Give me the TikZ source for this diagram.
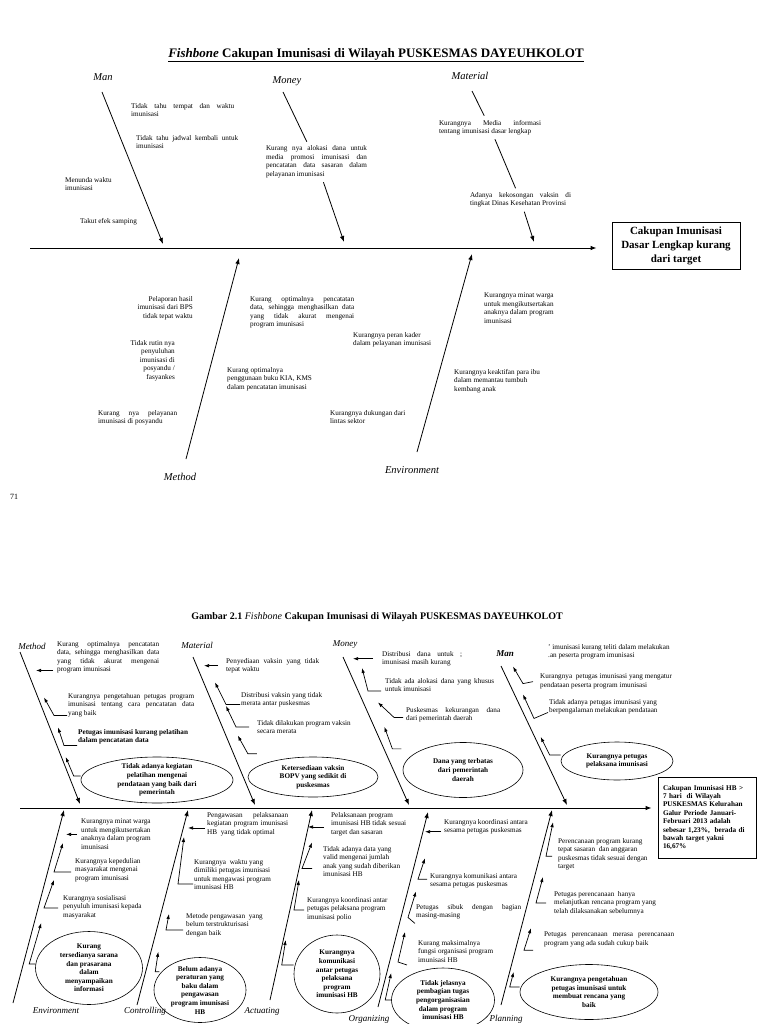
\documentclass[tikz,border=0pt]{standalone}
\usepackage{fontspec}
\setmainfont{Liberation Serif}
\usetikzlibrary{arrows.meta,shapes.geometric}

\begin{document}
\begin{tikzpicture}[x=1pt, y=-1pt,
  cause/.style={font=\fontsize{7.2}{8.5}\selectfont, inner sep=1pt, anchor=north west, align=left},
  causej/.style={cause, align=justify, text width=#1},
  causer/.style={cause, anchor=north east, align=right},
  causeb/.style={cause, font=\fontsize{7.2}{8.5}\selectfont\bfseries},
  gap/.style={inner sep=4pt},
  head/.style={font=\fontsize{10.5}{12}\selectfont\itshape, inner sep=1pt},
  head2/.style={font=\fontsize{9}{10}\selectfont\itshape, inner sep=1pt},
  title1/.style={font=\fontsize{13}{15}\selectfont\bfseries, inner sep=1pt},
  title2/.style={font=\fontsize{10}{12}\selectfont\bfseries, inner sep=1pt},
  bone/.style={line width=0.8pt, -{Latex[length=6pt,width=4.5pt]}},
  spine/.style={line width=1pt, -{Latex[length=6pt,width=4.5pt]}},
  subarr/.style={line width=0.7pt, -{Latex[length=5pt,width=3.5pt]}},
  oval/.style={ellipse, draw, line width=0.6pt, font=\fontsize{7.2}{8.6}\selectfont\bfseries, align=center, inner xsep=0pt, inner ysep=-3pt},
  result1/.style={draw, line width=0.8pt, minimum width=128pt, minimum height=47pt, font=\fontsize{11}{14}\selectfont\bfseries, align=center},
  result2/.style={draw, line width=0.8pt, text width=88pt, inner xsep=5pt, minimum height=81pt, font=\fontsize{7.2}{8.4}\selectfont\bfseries, align=left}]
  \path[use as bounding box, fill=white] (0,0) rectangle (768,1024);

  \node[title1] (ttl1) at (376,55) {\underline{\textit{Fishbone} Cakupan Imunisasi di Wilayah PUSKESMAS DAYEUHKOLOT}};
  \node[result1] (res1) at (676,245.5) {Cakupan Imunisasi\\Dasar Lengkap kurang\\dari target};
  \coordinate (sp1S) at (30,248);
  \draw[spine, shorten >=15pt] (sp1S) -- (sp1S -| res1.west);

  \node[head] (man1) at (103,77) {Man};
  \node[head] (mon1) at (287,81) {Money};
  \node[head] (mat1) at (470,76) {Material};
  \node[head] (met1) at (180,477) {Method};
  \node[head] (env1) at (412,470) {Environment};

  \coordinate (manS1) at (102,92);
  \coordinate (manE1) at (163,244);
  \coordinate (monS1) at (283,92);
  \coordinate (monE1) at (344,242);
  \coordinate (matS1) at (472,91);
  \coordinate (matE1) at (534,242);
  \coordinate (metS1) at (186,459);
  \coordinate (metE1) at (239,258);
  \coordinate (envS1) at (417,452);
  \coordinate (envE1) at (472,254);

  \node[causej=101pt, gap, anchor=center] (mon1a) at (316.5,162) {Kurang nya alokasi dana untuk\linebreak media promosi imunisasi dan\linebreak pencatatan data sasaran dalam\linebreak pelayanan imunisasi};
  \node[causej=102pt, gap, anchor=center] (mat1a) at (490,127.5) {Kurangnya Media informasi\linebreak tentang imunisasi dasar lengkap};
  \node[causej=101pt, gap, anchor=center] (mat1b) at (520.5,200) {Adanya kekosongan vaksin di\linebreak tingkat Dinas Kesehatan Provinsi};

  \draw[bone] (manS1) -- (manE1);
  \draw[bone] (monS1) -- (mon1a) -- (monE1);
  \draw[bone] (matS1) -- (mat1a) -- (mat1b) -- (matE1);
  \draw[bone] (metS1) -- (metE1);
  \draw[bone] (envS1) -- (envE1);

  \node[causej=103pt] (man1a) at (130,102) {Tidak tahu tempat dan waktu\linebreak imunisasi};
  \node[causej=102pt] (man1b) at (135,134) {Tidak tahu jadwal kembali untuk\linebreak imunisasi};
  \node[cause] (man1c) at (64,176) {Menunda waktu\\imunisasi};
  \node[cause] (man1d) at (79,217) {Takut efek samping};
  \node[causer] (met1a) at (194,295) {Pelaporan hasil\\imunisasi dari BPS\\tidak tepat waktu};
  \node[causej=104pt] (met1b) at (249,295) {Kurang optimalnya pencatatan\linebreak data, sehingga menghasilkan data\linebreak yang tidak akurat mengenai\linebreak program imunisasi};
  \node[causer] (met1c) at (176,339) {Tidak rutin nya\\penyuluhan\\imunisasi di\\posyandu /\\fasyankes};
  \node[cause] (met1d) at (226,366) {Kurang optimalnya\\penggunaan buku KIA, KMS\\dalam pencatatan imunisasi};
  \node[causej=79pt] (met1e) at (97,409) {Kurang nya pelayanan\linebreak imunisasi di posyandu};
  \node[cause] (env1a) at (352,331) {Kurangnya peran kader\\dalam pelayanan imunisasi};
  \node[cause] (env1b) at (329,409) {Kurangnya dukungan dari\\lintas sektor};
  \node[cause] (env1c) at (483,292) {Kurangnya minat warga\\untuk mengikutsertakan\\anaknya dalam program\\imunisasi};
  \node[cause] (env1d) at (453,368) {Kurangnya keaktifan para ibu\\dalam memantau tumbuh\\kembang anak};
  \node[font=\fontsize{8}{9}\selectfont, inner sep=1pt] (pg71) at (14,497) {71};

  \node[title2] (ttl2) at (377,617) {Gambar 2.1 \textit{\mdseries Fishbone} Cakupan Imunisasi di Wilayah PUSKESMAS DAYEUHKOLOT};
  \node[result2] (res2) at (707,817.5) {Cakupan Imunisasi HB \textgreater\\7 hari~ di Wilayah\\PUSKESMAS Kelurahan\\Galur Periode Januari-\\Februari 2013 adalah\\sebesar 1,23\%,~ berada di\\bawah target yakni\\16,67\%};
  \coordinate (sp2S) at (20,808);
  \draw[spine, shorten >=6pt] (sp2S) -- (sp2S -| res2.west);

  \node[head2] (met2) at (32,646) {Method};
  \node[head2] (mat2) at (197,645) {Material};
  \node[head2] (mon2) at (345,645) {Money};
  \node[head2, font=\fontsize{9}{10}\selectfont\bfseries\itshape] (man2) at (505,654) {Man};
  \node[head2] (env2) at (56,1011) {Environment};
  \node[head2] (con2) at (145,1011) {Controlling};
  \node[head2] (act2) at (262,1011) {Actuating};
  \node[head2] (org2) at (369,1019) {Organizing};
  \node[head2] (pla2) at (506,1019) {Planning};

  \coordinate (metS2) at (20,652);
  \coordinate (metE2) at (80,804);
  \coordinate (matS2) at (193,657);
  \coordinate (matE2) at (255,805);
  \coordinate (monS2) at (343,657);
  \coordinate (monE2) at (409,805);
  \coordinate (manS2) at (501,666);
  \coordinate (manE2) at (567,805);
  \coordinate (envS2) at (13,1003);
  \coordinate (envE2) at (64,810);
  \coordinate (conS2) at (137,1005);
  \coordinate (conE2) at (188,810);
  \coordinate (actS2) at (270,1000);
  \coordinate (actE2) at (312,810);
  \coordinate (orgS2) at (378,1007);
  \coordinate (orgE2) at (428,812);
  \coordinate (plaS2) at (501,1005);
  \coordinate (plaE2) at (552,810);

  \draw[bone] (metS2) -- (metE2);
  \draw[bone] (matS2) -- (matE2);
  \draw[bone] (monS2) -- (monE2);
  \draw[bone] (manS2) -- (manE2);
  \draw[bone] (envS2) -- (envE2);
  \draw[bone] (conS2) -- (conE2);
  \draw[bone] (actS2) -- (actE2);
  \draw[bone] (orgS2) -- (orgE2);
  \draw[bone] (plaS2) -- (plaE2);

  \node[causej=102pt] (met2a) at (56,640) {Kurang optimalnya pencatatan\linebreak data, sehingga menghasilkan data\linebreak yang tidak akurat mengenai\linebreak program imunisasi};
  \node[causej=126pt] (met2b) at (67,692) {Kurangnya pengetahuan petugas program\linebreak imunisasi tentang cara pencatatan data\linebreak yang baik};
  \node[causeb] (met2c) at (77,728) {Petugas imunisasi kurang pelatihan\\dalam pencatatan data};
  \node[oval, minimum width=152pt, minimum height=46pt] (met2d) at (157,780) {Tidak adanya kegiatan\\pelatihan mengenai\\pendataan yang baik dari\\pemerintah};
  \draw[subarr] ([shift={(-3pt,4pt)}]met2a.south west) -- ++(-17,0);
  \draw[subarr] ([yshift=2.5pt]met2b.south west) -- ++(-13,0) -- ++(-10,-18);
  \draw[subarr] (met2c.south west) -- ++(-13,0) -- ++(-6,-18);
  \draw[subarr] ([yshift=4pt]met2d.west) -- ++(-7,0) -- ++(-8,-19);

  \node[causej=93pt] (mat2a) at (225,657) {Penyediaan vaksin yang tidak\linebreak tepat waktu};
  \node[cause] (mat2b) at (240,691) {Distribusi vaksin yang tidak\\merata antar puskesmas};
  \node[cause] (mat2c) at (256,719) {Tidak dilakukan program vaksin\\secara merata};
  \node[oval, minimum width=130pt, minimum height=40pt] (mat2d) at (313,777) {Ketersediaan vaksin\\BOPV yang sedikit di\\puskesmas};
  \draw[subarr] ([xshift=-7pt]mat2a.west) -- ++(-14,0);
  \draw[subarr] ([yshift=4pt]mat2b.south west) -- ++(-14,0) -- ++(-11,-22);
  \draw[subarr] ([xshift=-7pt]mat2c.west) -- ++(-13,0) -- ++(-10,-21);
  \draw[subarr] ([shift={(-10pt,9pt)}]mat2d.north west) -- ++(-9,0) -- ++(-10,-18);

  \node[causej=80pt] (mon2a) at (381,650) {Distribusi dana untuk ;\linebreak imunisasi masih kurang};
  \node[causej=109pt] (mon2b) at (384,677) {Tidak ada alokasi dana yang khusus\linebreak untuk imunisasi};
  \node[causej=94pt] (mon2c) at (405,706) {Puskesmas kekurangan dana\linebreak dari pemerintah daerah};
  \node[oval, minimum width=120pt, minimum height=55pt] (mon2d) at (463,770) {Dana yang terbatas\\dari pemerintah\\daerah};
  \draw[subarr] ([xshift=-8pt]mon2a.west) -- ++(-20,0);
  \draw[subarr] ([shift={(-3pt,2pt)}]mon2b.south west) -- ++(-13,0) -- ++(-6,-23);
  \draw[subarr] ([shift={(-2pt,6pt)}]mon2c.south west) -- ++(-9,0) -- ++(-16,-15);
  \draw[subarr] ([shift={(-19pt,1.5pt)}]mon2d.north west) -- ++(-9,0) -- ++(-8,-22);

  \node[cause] (man2a) at (547,643) {\textquoteright\ imunisasi kurang teliti dalam melakukan\\.an peserta program imunisasi};
  \node[cause] (man2b) at (539,673) {Kurangnya~ petugas imunisasi yang mengatur\\pendataan peserta program imunisasi};
  \node[cause] (man2c) at (548,698) {Tidak adanya petugas imunisasi yang\\berpengalaman melakukan pendataan};
  \node[oval, minimum width=112pt, minimum height=38pt] (man2d) at (617,761) {Kurangnya petugas\\pelaksana imunisasi};
  \draw[subarr] ([xshift=-6pt]man2b.west) -- ++(-10,2) -- ++(-10,-17);
  \draw[subarr] ([yshift=3pt]man2c.south west) -- ++(-14,6) -- ++(-11,-24);
  \draw[subarr] ([yshift=6pt]man2d.west) -- ++(-11,0) -- ++(-9,-18);

  \node[cause] (env2a) at (80,818) {Kurangnya minat warga\\untuk mengikutsertakan\\anaknya dalam program\\imunisasi};
  \node[cause] (env2b) at (74,857) {Kurangnya kepedulian\\masyarakat mengenai\\program imunisasi};
  \node[cause] (env2c) at (62,894) {Kurangnya sosialisasi\\penyuluh imunisasi kepada\\masyarakat};
  \node[oval, minimum width=107pt, minimum height=73pt] (env2d) at (89,968) {Kurang\\tersedianya sarana\\dan prasarana\\dalam\\menyampaikan\\informasi};
  \draw[subarr] ([xshift=-3pt]env2a.west) -- ++(-11,0);
  \draw[subarr] ([shift={(-3pt,-2pt)}]env2b.west) -- ++(-17,0) -- ++(9,-29);
  \draw[subarr] ([shift={(-4pt,-1pt)}]env2c.west) -- ++(-14,0) -- ++(10,-28);
  \draw[subarr] ([yshift=4pt]env2d.west) -- ++(-6,0) -- ++(12,-41);

  \node[causej=81pt] (con2a) at (206,811) {Pengawasan pelaksanaan\linebreak kegiatan program imunisasi\linebreak HB~ yang tidak optimal};
  \node[cause] (con2b) at (193,858) {Kurangnya~ waktu yang\\dimiliki petugas imunisasi\\untuk mengawasi program\\imunisasi HB};
  \node[cause] (con2c) at (185,912) {Metode pengawasan~ yang\\belum terstrukturisasi\\dengan baik};
  \node[oval, minimum width=92pt, minimum height=65pt] (con2d) at (200,990) {Belum adanya\\peraturan yang\\baku dalam\\pengawasan\\program imunisasi\\HB};
  \draw[subarr] ([shift={(-1pt,-4pt)}]con2a.west) -- ++(-17,0);
  \draw[subarr] ([yshift=7pt]con2b.south west) -- ++(-15,0) -- ++(6,-47);
  \draw[subarr] ([shift={(-2pt,-5pt)}]con2c.west) -- ++(-17,0) -- ++(3,-16);
  \draw[subarr] ([shift={(-8pt,-5pt)}]con2d.north west) -- ++(-4,0) -- ++(3,-20);

  \node[cause] (act2a) at (330,811) {Pelaksanaan program\\imunisasi HB tidak sesuai\\target dan sasaran};
  \node[cause] (act2b) at (322,845) {Tidak adanya data yang\\valid mengenai jumlah\\anak yang sudah diberikan\\imunisasi HB};
  \node[cause] (act2c) at (306,896) {Kurangnya koordinasi antar\\petugas pelaksana program\\imunisasi polio};
  \node[oval, minimum width=86pt, minimum height=78pt] (act2d) at (337,974) {Kurangnya\\komunikasi\\antar petugas\\pelaksana\\program\\imunisasi HB};
  \draw[subarr] ([shift={(-6pt,-3pt)}]act2a.west) -- ++(-16,0);
  \draw[subarr] ([shift={(-10pt,-7pt)}]act2b.west) -- ++(-10,0) -- ++(10,-26);
  \draw[subarr] ([shift={(-2pt,-1pt)}]act2c.west) -- ++(-10,0) -- ++(5,-30);
  \draw[subarr] ([yshift=9pt]act2d.west) -- ++(-12,0) -- ++(4,-25);

  \node[cause] (org2a) at (443,818) {Kurangnya koordinasi antara\\sesama petugas puskesmas};
  \node[cause] (org2b) at (429,872) {Kurangnya komunikasi antara\\sesama petugas puskesmas};
  \node[causej=105pt] (org2c) at (415,903) {Petugas sibuk dengan bagian\linebreak masing-masing};
  \node[cause] (org2d) at (417,939) {Kurang maksimalnya\\fungsi organisasi program\\imunisasi HB};
  \node[oval, minimum width=103pt, minimum height=64pt] (org2e) at (443,1000) {Tidak jelasnya\\pembagian tugas\\pengorganisasian\\dalam program\\imunisasi HB};
  \draw[subarr] ([shift={(-2pt,-5pt)}]org2a.west) -- ++(-16,0);
  \draw[subarr] ([shift={(-2pt,1.5pt)}]org2b.west) -- ++(-9,0) -- ++(7,-21);
  \draw[subarr] ([yshift=-3pt]org2c.south west) -- ++(-7,-6) -- ++(8,-26);
  \draw[subarr] ([shift={(-10pt,-1.5pt)}]org2d.south west) -- ++(-9,-3) -- ++(7,-30);
  \draw[subarr] (org2e.west) -- ++(-6,0) -- ++(6,-27);

  \node[cause] (pla2a) at (557,837) {Perencanaan program kurang\\tepat sasaran~ dan anggaran\\puskesmas tidak sesuai dengan\\target};
  \node[cause] (pla2b) at (553,890) {Petugas perencanaan~ hanya\\melanjutkan rencana program yang\\telah dilaksanakan sebelumnya};
  \node[causej=130pt] (pla2c) at (543,931) {Petugas perencanaan merasa perencanaan\linebreak program yang ada sudah cukup baik};
  \node[oval, minimum width=138pt, minimum height=55pt] (pla2d) at (589,992) {Kurangnya pengetahuan\\petugas imunisasi untuk\\membuat rencana yang\\baik};
  \draw[subarr] ([shift={(-5pt,-2pt)}]pla2a.west) -- ++(-6,0) -- ++(7,-34);
  \draw[subarr] ([xshift=-7pt]pla2b.west) -- ++(-10,0) -- ++(7,-26);
  \draw[subarr] ([shift={(-10pt,-2pt)}]pla2c.south west) -- ++(-9,0) -- ++(7,-22);
  \draw[subarr] ([yshift=5pt]pla2d.west) -- ++(-10,0) -- ++(4,-15);
\end{tikzpicture}
\end{document}
